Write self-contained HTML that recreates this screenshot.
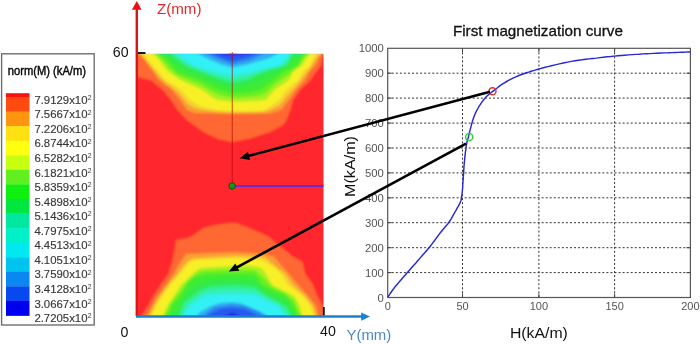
<!DOCTYPE html>
<html><head><meta charset="utf-8"><style>
html,body{margin:0;padding:0;background:#fff;width:700px;height:344px;overflow:hidden}
svg text{font-family:"Liberation Sans",Arial,sans-serif}
</style></head><body>
<svg width="700" height="344" viewBox="0 0 700 344" style="display:block">
<rect width="700" height="344" fill="#fff"/>
<rect x="1.6" y="53.8" width="92.6" height="271.2" fill="#fff" stroke="#707070" stroke-width="1.4"/>
<text x="7.8" y="74.7" font-size="12.6" fill="#0a0a0a" textLength="78.2" lengthAdjust="spacingAndGlyphs" stroke="#0a0a0a" stroke-width="0.45">norm(M) (kA/m)</text>
<rect x="6.0" y="93.20" width="23.5" height="4.10" fill="#ff1010"/>
<rect x="6.0" y="97.00" width="23.5" height="14.87" fill="#ff4a10"/>
<rect x="6.0" y="111.57" width="23.5" height="14.87" fill="#ff9410"/>
<rect x="6.0" y="126.14" width="23.5" height="14.87" fill="#ffe010"/>
<rect x="6.0" y="140.71" width="23.5" height="14.87" fill="#ffff10"/>
<rect x="6.0" y="155.28" width="23.5" height="14.87" fill="#c8ff10"/>
<rect x="6.0" y="169.85" width="23.5" height="14.87" fill="#60f020"/>
<rect x="6.0" y="184.42" width="23.5" height="14.87" fill="#10f010"/>
<rect x="6.0" y="198.99" width="23.5" height="14.87" fill="#00e840"/>
<rect x="6.0" y="213.56" width="23.5" height="14.87" fill="#00e8a0"/>
<rect x="6.0" y="228.13" width="23.5" height="14.87" fill="#00f0c8"/>
<rect x="6.0" y="242.70" width="23.5" height="14.87" fill="#00e8f0"/>
<rect x="6.0" y="257.27" width="23.5" height="14.87" fill="#00c4f0"/>
<rect x="6.0" y="271.84" width="23.5" height="14.87" fill="#0888f0"/>
<rect x="6.0" y="286.41" width="23.5" height="14.87" fill="#0848f0"/>
<rect x="6.0" y="300.98" width="23.5" height="14.87" fill="#0000f0"/>
<text x="34.4" y="103.7" font-size="11.3" fill="#383838" stroke="#383838" stroke-width="0.15" textLength="53.1" lengthAdjust="spacingAndGlyphs">7.9129x10</text>
<text x="87.7" y="99.9" font-size="6.8" fill="#383838">2</text>
<text x="34.4" y="118.3" font-size="11.3" fill="#383838" stroke="#383838" stroke-width="0.15" textLength="53.1" lengthAdjust="spacingAndGlyphs">7.5667x10</text>
<text x="87.7" y="114.5" font-size="6.8" fill="#383838">2</text>
<text x="34.4" y="132.8" font-size="11.3" fill="#383838" stroke="#383838" stroke-width="0.15" textLength="53.1" lengthAdjust="spacingAndGlyphs">7.2206x10</text>
<text x="87.7" y="129.0" font-size="6.8" fill="#383838">2</text>
<text x="34.4" y="147.4" font-size="11.3" fill="#383838" stroke="#383838" stroke-width="0.15" textLength="53.1" lengthAdjust="spacingAndGlyphs">6.8744x10</text>
<text x="87.7" y="143.6" font-size="6.8" fill="#383838">2</text>
<text x="34.4" y="161.9" font-size="11.3" fill="#383838" stroke="#383838" stroke-width="0.15" textLength="53.1" lengthAdjust="spacingAndGlyphs">6.5282x10</text>
<text x="87.7" y="158.1" font-size="6.8" fill="#383838">2</text>
<text x="34.4" y="176.5" font-size="11.3" fill="#383838" stroke="#383838" stroke-width="0.15" textLength="53.1" lengthAdjust="spacingAndGlyphs">6.1821x10</text>
<text x="87.7" y="172.7" font-size="6.8" fill="#383838">2</text>
<text x="34.4" y="191.1" font-size="11.3" fill="#383838" stroke="#383838" stroke-width="0.15" textLength="53.1" lengthAdjust="spacingAndGlyphs">5.8359x10</text>
<text x="87.7" y="187.3" font-size="6.8" fill="#383838">2</text>
<text x="34.4" y="205.6" font-size="11.3" fill="#383838" stroke="#383838" stroke-width="0.15" textLength="53.1" lengthAdjust="spacingAndGlyphs">5.4898x10</text>
<text x="87.7" y="201.8" font-size="6.8" fill="#383838">2</text>
<text x="34.4" y="220.2" font-size="11.3" fill="#383838" stroke="#383838" stroke-width="0.15" textLength="53.1" lengthAdjust="spacingAndGlyphs">5.1436x10</text>
<text x="87.7" y="216.4" font-size="6.8" fill="#383838">2</text>
<text x="34.4" y="234.7" font-size="11.3" fill="#383838" stroke="#383838" stroke-width="0.15" textLength="53.1" lengthAdjust="spacingAndGlyphs">4.7975x10</text>
<text x="87.7" y="230.9" font-size="6.8" fill="#383838">2</text>
<text x="34.4" y="249.3" font-size="11.3" fill="#383838" stroke="#383838" stroke-width="0.15" textLength="53.1" lengthAdjust="spacingAndGlyphs">4.4513x10</text>
<text x="87.7" y="245.5" font-size="6.8" fill="#383838">2</text>
<text x="34.4" y="263.9" font-size="11.3" fill="#383838" stroke="#383838" stroke-width="0.15" textLength="53.1" lengthAdjust="spacingAndGlyphs">4.1051x10</text>
<text x="87.7" y="260.1" font-size="6.8" fill="#383838">2</text>
<text x="34.4" y="278.4" font-size="11.3" fill="#383838" stroke="#383838" stroke-width="0.15" textLength="53.1" lengthAdjust="spacingAndGlyphs">3.7590x10</text>
<text x="87.7" y="274.6" font-size="6.8" fill="#383838">2</text>
<text x="34.4" y="293.0" font-size="11.3" fill="#383838" stroke="#383838" stroke-width="0.15" textLength="53.1" lengthAdjust="spacingAndGlyphs">3.4128x10</text>
<text x="87.7" y="289.2" font-size="6.8" fill="#383838">2</text>
<text x="34.4" y="307.5" font-size="11.3" fill="#383838" stroke="#383838" stroke-width="0.15" textLength="53.1" lengthAdjust="spacingAndGlyphs">3.0667x10</text>
<text x="87.7" y="303.7" font-size="6.8" fill="#383838">2</text>
<text x="34.4" y="322.1" font-size="11.3" fill="#383838" stroke="#383838" stroke-width="0.15" textLength="53.1" lengthAdjust="spacingAndGlyphs">2.7205x10</text>
<text x="87.7" y="318.3" font-size="6.8" fill="#383838">2</text>
<defs><clipPath id="pc"><rect x="136.0" y="53.8" width="187.5" height="262.2"/></clipPath><filter id="bl" x="-5%" y="-5%" width="110%" height="110%"><feGaussianBlur stdDeviation="0.90"/></filter></defs>
<g clip-path="url(#pc)"><g filter="url(#bl)">
<rect x="131.0" y="48.8" width="197.5" height="272.2" fill="#ff282e"/>
<path d="M131.0,48.8L131.0,76.4L136.0,76.4L151.0,80.2L163.0,90.2L171.0,100.1L177.5,109.9L187.0,120.0L203.5,132.1L218.0,139.0L232.0,142.0L250.0,138.5L270.0,132.1L283.0,125.0L286.5,120.0L290.5,109.6L293.0,100.4L293.5,99.4L300.0,89.8L310.5,80.0L316.0,71.9L321.0,65.4L321.5,63.9L322.5,58.5L324.0,53.0L328.5,53.0L328.5,48.8Z" fill="#ff6830"/>
<path d="M131.0,48.8L131.0,52.5L136.5,52.5L142.5,57.8L153.5,72.0L159.0,80.1L172.5,90.4L180.5,100.3L187.0,110.0L195.0,113.0L232.0,114.0L270.0,113.5L281.0,110.0L289.0,100.0L296.0,89.8L305.0,80.2L309.5,71.7L316.0,64.7L318.5,58.3L322.5,52.6L328.5,52.5L328.5,48.8Z" fill="#f8a030"/>
<path d="M131.0,48.8L131.0,52.5L136.5,52.5L142.0,54.9L142.5,55.4L159.0,76.2L165.5,82.5L172.0,86.9L180.0,94.3L181.5,95.9L187.0,103.3L190.0,105.6L195.0,108.0L200.0,109.6L216.5,111.8L232.0,112.5L255.0,112.3L265.0,111.7L270.0,110.0L279.5,105.3L281.0,104.0L286.5,96.5L289.0,93.9L295.5,86.5L298.5,83.6L302.5,77.4L305.0,75.0L309.0,69.4L310.5,67.8L313.0,63.3L318.5,55.4L322.5,52.6L328.5,52.5L328.5,48.8Z" fill="#f8d030"/>
<path d="M131.0,48.8L131.0,52.5L142.0,52.5L142.5,52.9L146.5,57.8L152.0,65.0L159.0,72.2L165.5,80.0L181.5,89.9L189.5,99.8L200.0,106.0L216.5,110.0L232.0,111.0L255.0,111.0L265.0,109.9L272.0,105.0L279.5,100.1L286.5,89.9L298.5,80.0L302.5,72.0L310.5,65.0L313.5,57.5L316.0,53.5L317.0,52.5L328.5,52.5L328.5,48.8Z" fill="#f8f028"/>
<path d="M131.0,48.8L131.0,52.5L152.0,52.5L152.5,52.7L157.5,58.0L168.0,71.7L180.0,79.8L202.0,90.1L216.5,100.0L232.0,102.0L255.0,101.0L266.0,100.0L266.5,99.6L274.5,89.9L289.0,80.0L293.0,72.2L302.5,65.0L306.5,58.0L310.5,52.8L311.0,52.5L328.5,52.5L328.5,48.8Z" fill="#a8f020"/>
<path d="M131.0,48.8L131.0,52.5L152.5,52.6L157.0,55.1L164.0,62.2L168.0,66.9L176.5,74.8L180.5,76.8L199.0,84.3L201.5,85.5L216.5,94.3L219.5,95.2L232.0,98.0L250.0,96.9L255.0,96.2L261.0,95.2L266.0,93.1L274.5,84.8L283.5,78.0L289.0,74.7L293.0,69.9L298.5,66.5L301.0,62.2L302.5,60.4L304.5,57.2L306.5,55.2L310.5,52.7L311.0,52.5L328.5,52.5L328.5,48.8Z" fill="#68f020"/>
<path d="M131.0,48.8L131.0,52.5L156.5,52.5L157.0,52.7L164.5,58.3L171.0,65.1L176.5,72.1L199.0,80.0L219.0,89.9L232.0,94.0L250.0,92.5L261.0,89.9L274.5,79.8L283.5,72.2L298.5,65.0L301.0,58.3L304.0,53.5L305.0,52.5L328.5,52.5L328.5,48.8Z" fill="#40ec30"/>
<path d="M131.0,48.8L131.0,52.5L157.0,52.6L164.0,55.2L169.0,57.8L176.5,65.6L184.5,70.0L199.0,75.7L219.0,84.4L232.0,88.5L247.5,86.3L250.0,85.6L261.0,81.6L263.5,80.1L274.5,74.3L283.5,69.2L287.5,67.6L290.5,63.3L293.0,60.6L294.0,59.8L298.5,58.8L301.0,55.4L304.0,53.0L305.0,52.5L328.5,52.5L328.5,48.8Z" fill="#30ea48"/>
<path d="M131.0,48.8L131.0,52.5L169.0,52.6L175.0,58.0L184.5,65.1L200.5,72.0L222.0,80.0L232.0,83.0L247.5,80.0L263.5,72.0L287.5,65.1L288.0,64.2L290.5,57.8L293.0,53.5L294.0,52.5L328.5,52.5L328.5,48.8Z" fill="#30f090"/>
<path d="M131.0,48.8L131.0,52.5L169.0,52.5L176.5,55.8L184.0,61.8L192.5,66.8L200.5,69.7L216.0,74.9L222.0,76.5L232.0,78.8L247.5,76.1L263.5,70.5L281.0,66.0L286.0,62.0L287.5,60.6L289.0,57.6L290.5,55.2L293.0,53.0L294.0,52.5L328.5,52.5L328.5,48.8Z" fill="#30f0c8"/>
<path d="M131.0,48.8L131.0,52.5L176.5,52.5L178.0,53.5L183.0,58.0L192.5,65.0L216.0,72.0L232.0,74.5L250.0,72.0L281.0,65.0L286.5,57.8L289.0,53.5L290.5,52.5L328.5,52.5L328.5,48.8Z" fill="#30f0f6"/>
<path d="M131.0,48.8L131.0,52.5L195.5,52.5L198.0,53.5L206.0,58.1L222.0,65.0L232.0,67.5L246.0,65.0L270.0,58.1L278.0,53.5L280.5,52.5L328.5,52.5L328.5,48.8Z" fill="#30b0f0"/>
<path d="M131.0,48.8L131.0,52.5L203.5,52.5L206.0,53.5L215.0,58.0L232.0,64.5L250.0,60.5L264.0,53.5L266.5,52.5L328.5,52.5L328.5,48.8Z" fill="#2c84f0"/>
<path d="M131.0,48.8L131.0,52.5L208.0,52.5L210.5,52.8L222.0,58.0L232.0,61.5L246.0,58.0L258.0,53.5L260.0,52.5L328.5,52.5L328.5,48.8Z" fill="#2858f0"/>
<path d="M131.0,48.8L131.0,52.5L208.0,52.5L232.0,55.6L258.0,52.5L328.5,52.5L328.5,48.8Z" fill="#2020e0"/>
<path d="M131.0,321.0L131.0,321.0L136.5,321.0L137.0,320.8L140.0,317.0L143.5,313.1L148.0,306.0L153.5,295.8L162.0,282.8L168.0,274.3L172.0,262.6L172.5,260.5L175.0,248.0L176.0,240.0L186.0,238.5L192.0,236.2L203.5,227.9L215.0,225.0L229.5,223.0L236.0,223.1L249.0,228.0L267.5,235.9L292.0,256.0L302.5,262.0L305.0,273.1L305.5,274.4L313.0,284.5L317.0,295.5L322.5,305.8L324.0,310.0L328.5,310.0L328.5,321.0Z" fill="#ff6830"/>
<path d="M131.0,321.0L131.0,321.0L142.5,321.0L143.0,320.7L149.0,312.5L152.0,306.0L157.5,296.0L168.0,282.5L173.5,274.2L180.5,261.7L186.0,254.0L210.0,252.9L236.0,252.2L250.5,252.9L265.0,254.3L273.5,256.4L274.0,256.7L278.5,262.2L289.0,274.0L298.0,284.8L308.0,296.1L315.5,305.5L316.0,306.4L319.0,318.0L328.5,318.0L328.5,321.0Z" fill="#f8a030"/>
<path d="M131.0,321.0L131.0,321.0L146.5,321.0L151.0,312.9L154.0,306.0L160.0,296.0L170.0,282.5L187.0,262.0L192.0,258.5L210.0,257.2L236.0,255.8L265.0,257.2L270.5,262.2L285.0,274.0L292.5,284.4L305.0,296.0L313.0,306.0L317.0,318.0L328.5,318.0L328.5,321.0Z" fill="#f8d030"/>
<path d="M131.0,321.0L131.0,321.0L148.5,321.0L153.0,312.9L156.0,306.0L163.0,295.7L172.5,282.3L180.5,273.8L190.0,262.0L195.0,260.2L236.0,258.5L260.0,259.5L265.0,262.0L275.0,268.0L281.0,274.0L287.5,284.6L302.5,296.0L310.5,306.0L314.0,318.0L328.5,318.0L328.5,321.0Z" fill="#f8f028"/>
<path d="M131.0,321.0L131.0,321.0L159.5,321.0L164.0,313.4L167.0,305.9L181.0,285.0L192.5,273.9L200.0,268.0L236.0,265.5L252.0,265.8L261.5,268.0L262.0,268.4L266.0,273.7L272.0,284.5L294.5,296.2L299.5,305.4L300.0,306.7L303.0,318.0L328.5,318.0L328.5,321.0Z" fill="#a8f020"/>
<path d="M131.0,321.0L131.0,321.0L160.0,321.0L160.5,320.7L164.0,317.7L167.0,311.0L168.5,308.4L171.0,302.9L180.0,291.4L187.5,280.9L195.0,274.5L200.0,271.8L206.0,270.8L236.0,269.5L252.0,269.9L255.0,270.2L261.5,275.9L266.0,280.1L272.0,286.9L286.5,294.0L294.0,300.6L294.5,301.3L298.0,310.3L300.0,312.4L303.0,318.0L328.5,318.0L328.5,321.0Z" fill="#68f020"/>
<path d="M131.0,321.0L131.0,321.0L164.5,321.0L168.5,313.1L171.0,305.9L180.5,295.6L187.5,283.0L195.0,277.0L206.0,274.0L236.0,273.5L255.0,274.0L262.0,284.5L286.5,296.1L294.0,305.5L294.5,306.3L298.0,318.0L328.5,318.0L328.5,321.0Z" fill="#40ec30"/>
<path d="M131.0,321.0L131.0,321.0L165.0,321.0L168.5,317.5L171.0,313.9L177.0,310.8L179.0,307.7L180.5,302.8L184.0,295.7L187.5,291.2L195.0,285.5L200.0,282.8L206.0,280.9L210.5,280.0L236.0,279.2L255.0,280.5L262.0,288.2L267.5,291.5L286.5,301.2L292.0,310.5L294.5,312.2L298.0,318.0L328.5,318.0L328.5,321.0Z" fill="#30ea48"/>
<path d="M131.0,321.0L131.0,321.0L177.5,321.0L179.0,318.0L180.5,310.0L184.0,302.0L192.5,295.9L200.0,290.0L211.0,286.0L236.0,285.0L255.0,287.0L267.5,295.9L286.0,305.8L286.5,306.2L292.0,318.0L328.5,318.0L328.5,321.0Z" fill="#30f090"/>
<path d="M131.0,321.0L131.0,321.0L178.0,321.0L179.0,320.0L180.5,316.0L183.0,313.1L184.0,310.3L186.0,306.5L190.0,301.9L200.0,294.7L205.0,292.1L211.0,290.7L215.0,290.4L236.0,289.8L250.0,290.7L255.0,291.4L257.0,292.3L267.5,298.5L278.5,304.1L286.0,311.9L286.5,312.1L292.0,318.0L328.5,318.0L328.5,321.0Z" fill="#30f0c8"/>
<path d="M131.0,321.0L131.0,321.0L183.0,321.0L183.5,320.3L185.5,313.6L186.0,312.4L190.0,306.0L205.0,296.0L215.0,295.0L236.0,294.5L250.0,295.0L256.5,296.0L278.0,305.9L278.5,306.3L286.0,318.0L328.5,318.0L328.5,321.0Z" fill="#30f0f6"/>
<path d="M131.0,321.0L131.0,321.0L192.5,321.0L193.0,320.8L200.0,312.0L211.0,306.1L220.0,303.0L232.0,302.0L240.0,303.0L247.5,306.0L265.0,314.0L271.0,320.9L271.5,321.0L328.5,321.0L328.5,321.0Z" fill="#30b0f0"/>
<path d="M131.0,321.0L131.0,321.0L198.5,321.0L199.0,320.9L205.0,314.0L215.0,307.0L232.0,304.5L245.0,306.0L260.0,312.0L267.0,320.8L267.5,321.0L328.5,321.0L328.5,321.0Z" fill="#2c84f0"/>
<path d="M131.0,321.0L131.0,321.0L204.5,321.0L205.0,320.7L210.0,314.0L220.0,309.0L232.0,307.5L245.0,309.0L258.0,316.0L263.0,321.0L328.5,321.0L328.5,321.0Z" fill="#2858f0"/>
<path d="M131.0,321.0L131.0,321.0L219.0,321.0L224.5,316.1L232.0,312.5L240.0,316.0L245.0,321.0L328.5,321.0L328.5,321.0Z" fill="#2020e0"/>
</g></g>
<line x1="232.3" y1="52" x2="232.3" y2="186" stroke="#b00000" stroke-opacity="0.55" stroke-width="1.2"/>
<line x1="232" y1="186" x2="323.5" y2="186" stroke="#6a2ad8" stroke-width="1.8"/>
<circle cx="232.1" cy="185.9" r="3.2" fill="#169816" stroke="#0a4a0a" stroke-width="0.9"/>
<line x1="228.5" y1="54.3" x2="236.5" y2="54.3" stroke="#7030b0" stroke-width="1.2"/>
<line x1="136.8" y1="316" x2="136.8" y2="9" stroke="#d81616" stroke-width="2.4"/>
<polygon points="136.8,0.9 131.9,9.8 141.6,9.8" fill="#ee1010"/>
<line x1="138" y1="53" x2="145.5" y2="53" stroke="#000" stroke-width="1.8"/>
<text x="157.0" y="13.7" font-size="14.0" fill="#e0282a" textLength="44.5" lengthAdjust="spacingAndGlyphs">Z(mm)</text>
<text x="128.6" y="57.0" font-size="14.2" fill="#111" text-anchor="end">60</text>
<line x1="136" y1="316.5" x2="362" y2="316.5" stroke="#1a80d0" stroke-width="2.4"/>
<polygon points="370,316.5 361.2,312.5 361.2,320.7" fill="#1a80d0"/>
<line x1="323.8" y1="307" x2="323.8" y2="315.3" stroke="#000" stroke-width="1.8"/>
<text x="124.4" y="336.6" font-size="14.2" fill="#111" text-anchor="middle">0</text>
<text x="327.9" y="336.2" font-size="14.2" fill="#111" text-anchor="middle">40</text>
<text x="346.5" y="339.6" font-size="14.0" fill="#4a88c8" textLength="44.8" lengthAdjust="spacingAndGlyphs">Y(mm)</text>
<g stroke="#333" stroke-width="1" stroke-dasharray="2,2.05"><line x1="462.5" y1="48.3" x2="462.5" y2="297.5"/><line x1="538.9" y1="48.3" x2="538.9" y2="297.5"/><line x1="614.6" y1="48.3" x2="614.6" y2="297.5"/><line x1="387.7" y1="272.6" x2="690.4" y2="272.6"/><line x1="387.7" y1="247.7" x2="690.4" y2="247.7"/><line x1="387.7" y1="222.7" x2="690.4" y2="222.7"/><line x1="387.7" y1="197.8" x2="690.4" y2="197.8"/><line x1="387.7" y1="172.9" x2="690.4" y2="172.9"/><line x1="387.7" y1="148.0" x2="690.4" y2="148.0"/><line x1="387.7" y1="123.1" x2="690.4" y2="123.1"/><line x1="387.7" y1="98.1" x2="690.4" y2="98.1"/><line x1="387.7" y1="73.2" x2="690.4" y2="73.2"/></g>
<rect x="387.7" y="48.3" width="302.7" height="249.2" fill="none" stroke="#555" stroke-width="1.2"/>
<g stroke="#444" stroke-width="1"><line x1="462.5" y1="297.5" x2="462.5" y2="293.5"/><line x1="462.5" y1="48.3" x2="462.5" y2="52.3"/><line x1="538.9" y1="297.5" x2="538.9" y2="293.5"/><line x1="538.9" y1="48.3" x2="538.9" y2="52.3"/><line x1="614.6" y1="297.5" x2="614.6" y2="293.5"/><line x1="614.6" y1="48.3" x2="614.6" y2="52.3"/><line x1="387.7" y1="272.6" x2="391.7" y2="272.6"/><line x1="690.4" y1="272.6" x2="686.4" y2="272.6"/><line x1="387.7" y1="247.7" x2="391.7" y2="247.7"/><line x1="690.4" y1="247.7" x2="686.4" y2="247.7"/><line x1="387.7" y1="222.7" x2="391.7" y2="222.7"/><line x1="690.4" y1="222.7" x2="686.4" y2="222.7"/><line x1="387.7" y1="197.8" x2="391.7" y2="197.8"/><line x1="690.4" y1="197.8" x2="686.4" y2="197.8"/><line x1="387.7" y1="172.9" x2="391.7" y2="172.9"/><line x1="690.4" y1="172.9" x2="686.4" y2="172.9"/><line x1="387.7" y1="148.0" x2="391.7" y2="148.0"/><line x1="690.4" y1="148.0" x2="686.4" y2="148.0"/><line x1="387.7" y1="123.1" x2="391.7" y2="123.1"/><line x1="690.4" y1="123.1" x2="686.4" y2="123.1"/><line x1="387.7" y1="98.1" x2="391.7" y2="98.1"/><line x1="690.4" y1="98.1" x2="686.4" y2="98.1"/><line x1="387.7" y1="73.2" x2="391.7" y2="73.2"/><line x1="690.4" y1="73.2" x2="686.4" y2="73.2"/></g>
<text x="383.8" y="301.6" font-size="11.3" fill="#555" text-anchor="end">0</text>
<text x="383.8" y="276.7" font-size="11.3" fill="#555" text-anchor="end">100</text>
<text x="383.8" y="251.8" font-size="11.3" fill="#555" text-anchor="end">200</text>
<text x="383.8" y="226.8" font-size="11.3" fill="#555" text-anchor="end">300</text>
<text x="383.8" y="201.9" font-size="11.3" fill="#555" text-anchor="end">400</text>
<text x="383.8" y="177.0" font-size="11.3" fill="#555" text-anchor="end">500</text>
<text x="383.8" y="152.1" font-size="11.3" fill="#555" text-anchor="end">600</text>
<text x="383.8" y="127.2" font-size="11.3" fill="#555" text-anchor="end">700</text>
<text x="383.8" y="102.2" font-size="11.3" fill="#555" text-anchor="end">800</text>
<text x="383.8" y="77.3" font-size="11.3" fill="#555" text-anchor="end">900</text>
<text x="383.8" y="52.4" font-size="11.3" fill="#555" text-anchor="end">1000</text>
<text x="387.7" y="310.2" font-size="11.0" fill="#555" text-anchor="middle">0</text>
<text x="462.5" y="310.2" font-size="11.0" fill="#555" text-anchor="middle">50</text>
<text x="538.9" y="310.2" font-size="11.0" fill="#555" text-anchor="middle">100</text>
<text x="614.6" y="310.2" font-size="11.0" fill="#555" text-anchor="middle">150</text>
<text x="690.4" y="310.2" font-size="11.0" fill="#555" text-anchor="middle">200</text>
<text x="452.9" y="35.6" font-size="14.6" fill="#111" textLength="170.0" lengthAdjust="spacingAndGlyphs" stroke="#111" stroke-width="0.3">First magnetization curve</text>
<text x="509.9" y="337.6" font-size="15.0" fill="#111" textLength="58.0" lengthAdjust="spacingAndGlyphs">H(kA/m)</text>
<text transform="translate(355.2,197) rotate(-90)" font-size="14.6" fill="#111" textLength="61" lengthAdjust="spacingAndGlyphs">M(kA/m)</text>
<polyline points="387.8,297.0 388.6,295.9 389.6,294.3 390.9,292.5 392.3,290.5 393.9,288.4 395.5,286.3 397.3,284.2 399.2,281.9 401.3,279.5 403.4,277.1 405.5,274.7 407.6,272.3 409.6,270.0 411.7,267.6 413.8,265.2 415.9,262.9 417.9,260.6 419.8,258.4 421.6,256.3 423.4,254.3 425.2,252.3 426.9,250.3 428.6,248.3 430.3,246.2 432.1,243.9 433.9,241.5 435.6,239.1 437.4,236.7 439.1,234.4 440.7,232.3 442.2,230.5 443.6,228.8 444.9,227.3 446.2,225.8 447.5,224.3 448.8,222.5 450.1,220.5 451.5,218.3 452.8,215.9 454.1,213.7 455.3,211.5 456.4,209.6 457.3,207.9 458.2,206.4 458.9,205.1 459.6,203.8 460.1,202.6 460.6,201.5 461.0,200.4 461.2,199.5 461.4,198.6 461.5,197.7 461.6,196.9 461.7,196.0 461.8,195.1 462.0,194.2 462.1,193.4 462.2,192.5 462.3,191.5 462.4,190.5 462.5,189.4 462.6,188.2 462.7,187.0 462.7,185.7 462.8,184.4 462.9,183.0 463.0,181.6 463.1,180.1 463.2,178.5 463.3,176.9 463.4,175.4 463.5,174.0 463.6,172.7 463.7,171.5 463.7,170.4 463.8,169.2 463.9,168.0 464.0,166.5 464.1,164.8 464.3,162.9 464.5,161.0 464.7,158.9 464.9,156.9 465.1,154.9 465.3,152.9 465.6,150.9 465.9,148.8 466.1,146.8 466.4,145.0 466.7,143.3 467.0,141.9 467.3,140.7 467.6,139.6 468.0,138.5 468.3,137.5 468.6,136.3 468.9,135.1 469.2,133.8 469.5,132.5 469.8,131.2 470.1,129.9 470.5,128.5 470.9,127.1 471.3,125.6 471.6,124.0 472.1,122.5 472.5,121.0 473.0,119.5 473.5,118.0 474.0,116.6 474.6,115.2 475.2,113.8 475.8,112.4 476.5,111.0 477.2,109.6 478.0,108.3 478.7,106.9 479.5,105.6 480.4,104.3 481.2,103.1 482.0,101.9 482.9,100.8 483.7,99.7 484.6,98.6 485.6,97.6 486.5,96.6 487.4,95.7 488.3,94.9 489.3,94.1 490.3,93.3 491.4,92.4 492.8,91.3 494.4,90.1 496.2,88.7 498.1,87.2 500.1,85.7 502.2,84.2 504.4,82.8 506.7,81.5 509.0,80.2 511.5,78.9 514.0,77.7 516.5,76.6 519.0,75.5 521.4,74.5 523.8,73.7 526.3,72.8 528.7,72.1 531.1,71.3 533.5,70.6 535.8,69.9 538.0,69.2 540.2,68.6 542.5,68.0 545.1,67.3 548.0,66.6 551.4,65.8 555.2,64.9 559.3,63.9 563.4,63.0 567.5,62.1 571.4,61.4 575.1,60.8 578.7,60.2 582.2,59.8 585.7,59.3 589.3,58.9 592.8,58.5 596.4,58.1 599.9,57.6 603.5,57.2 607.1,56.8 610.6,56.5 614.2,56.1 617.8,55.8 621.4,55.5 625.0,55.2 628.5,54.9 632.1,54.6 635.7,54.4 639.3,54.2 642.8,53.9 646.4,53.7 649.9,53.6 653.4,53.4 657.0,53.2 660.7,53.0 664.5,52.9 668.3,52.8 672.0,52.6 675.5,52.5 678.5,52.4 681.2,52.3 683.6,52.2 685.7,52.1 687.6,52.0 689.1,52.0 690.3,51.9" fill="none" stroke="#2828d4" stroke-width="1.45" stroke-linejoin="round"/>
<circle cx="492.5" cy="91.3" r="3.5" fill="none" stroke="#e03030" stroke-width="1.4"/>
<circle cx="469.2" cy="137" r="3.6" fill="none" stroke="#30d030" stroke-width="1.5"/>
<line x1="490.0" y1="91.8" x2="248.0" y2="156.1" stroke="#000" stroke-width="2.6"/><polygon points="239.8,158.3 247.9,151.8 250.1,159.9" fill="#000"/>
<line x1="466.0" y1="143.6" x2="236.4" y2="267.6" stroke="#000" stroke-width="2.6"/><polygon points="228.9,271.6 235.3,263.4 239.3,270.8" fill="#000"/>
</svg>
</body></html>
